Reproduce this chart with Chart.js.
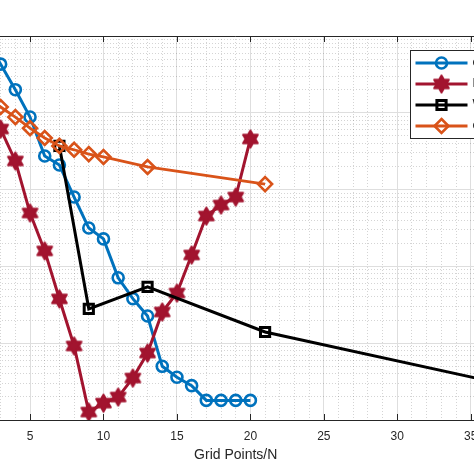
<!DOCTYPE html>
<html>
<head>
<meta charset="utf-8">
<script src="https://cdn.jsdelivr.net/npm/chart.js@4.4.1/dist/chart.umd.min.js"></script>
<style>
  html, body { margin: 0; padding: 0; background: #fff; overflow: hidden; width: 474px; height: 474px; }
  #wrap { position: absolute; left: -150px; top: 0; }
</style>
</head>
<body>
<div id="wrap"><canvas id="chart" width="740" height="474"></canvas></div>
<script>
// Axis ticks
const X_TICKS   = [0, 5, 10, 15, 20, 25, 30, 35, 40];
const Y_DECADES = [1e-6, 1e-5, 1e-4, 1e-3, 1e-2, 1e-1];
const X_TITLE   = 'Grid Points/N';

// Series (error vs. number of grid points)
const SERIES_NAMES = ['ours', 'Lagrange', 'WENO', 'central'];

const blueN   = [2, 3, 4, 5, 6, 7, 8, 9, 10, 11, 12, 13, 14, 15, 16, 17, 18, 19, 20];
const blueErr = [9e-2, 4.3e-2, 2.0e-2, 8.8e-3, 2.74e-3, 2.09e-3, 8.0e-4, 3.16e-4, 2.28e-4, 7.1e-5,
                 3.8e-5, 2.26e-5, 5.0e-6, 3.6e-6, 2.8e-6, 1.8e-6, 1.8e-6, 1.8e-6, 1.8e-6];

const redN   = [2, 3, 4, 5, 6, 7, 8, 9, 10, 11, 12, 13, 14, 15, 16, 17, 18, 19, 20];
const redErr = [1.6e-2, 6.15e-3, 2.36e-3, 4.96e-4, 1.59e-4, 3.77e-5, 9.2e-6, 1.27e-6, 1.66e-6, 1.99e-6,
                3.52e-6, 7.45e-6, 2.55e-5, 4.5e-5, 1.41e-4, 4.53e-4, 6.3e-4, 8.0e-4, 4.56e-3];

const blackN   = [7, 9, 13, 21, 37];
const blackErr = [3.7e-3, 2.8e-5, 5.4e-5, 1.4e-5, 3.0e-6];

const orangeN   = [2, 3, 4, 5, 6, 7, 8, 9, 10, 13, 21];
const orangeErr = [1.6e-2, 1.19e-2, 8.8e-3, 6.3e-3, 4.7e-3, 3.7e-3, 3.3e-3, 2.9e-3, 2.66e-3, 1.97e-3, 1.18e-3];

const COLORS = { blue: '#0072BD', red: '#A2142F', black: '#000000', orange: '#D95319' };
const AXIS_COLOR  = '#262626';
const GRID_MAJOR  = '#dedede';
const GRID_MINOR  = 'rgba(38,38,38,0.2)';
const FONT_FAMILY = "'Liberation Sans', Arial, Helvetica, sans-serif";

// minor grid positions: 1..9 x each decade
const yMinorTicks = [];
Y_DECADES.forEach((d, i) => {
  if (i === Y_DECADES.length - 1) { yMinorTicks.push(d); return; }
  for (let k = 1; k <= 9; k++) yMinorTicks.push(d * k);
});
const xMinorTicks = [];
for (let v = X_TICKS[0]; v <= X_TICKS[X_TICKS.length - 1]; v++) xMinorTicks.push(v);

const isDecade = v => Math.abs(Math.log10(v) - Math.round(Math.log10(v))) < 1e-6;

// filled six-pointed star marker
function makeHexagram(color, R) {
  const c = document.createElement('canvas');
  const s = Math.ceil(R * 2 + 4);
  c.width = s; c.height = s;
  const g = c.getContext('2d');
  const r = R / Math.sqrt(3);
  g.beginPath();
  for (let i = 0; i < 12; i++) {
    const ang = -Math.PI / 2 + i * Math.PI / 6;
    const rr = i % 2 === 0 ? R : r;
    const px = s / 2 + rr * Math.cos(ang), py = s / 2 + rr * Math.sin(ang);
    i === 0 ? g.moveTo(px, py) : g.lineTo(px, py);
  }
  g.closePath();
  g.fillStyle = color;
  g.strokeStyle = color;
  g.lineWidth = 2;
  g.lineJoin = 'round';
  g.fill();
  g.stroke();
  return c;
}
const hexStar = makeHexagram(COLORS.red, 8.5);

const toPoints = (xs, ys) => xs.map((x, i) => ({ x, y: ys[i] }));

const datasets = [
  { label: SERIES_NAMES[0], data: toPoints(blueN, blueErr), borderColor: COLORS.blue, borderWidth: 3,
    pointStyle: 'circle', pointRadius: 5.5, pointBorderWidth: 2.6, pointBackgroundColor: 'rgba(0,0,0,0)',
    pointBorderColor: COLORS.blue, order: 3 },
  { label: SERIES_NAMES[1], data: toPoints(redN, redErr), borderColor: COLORS.red, borderWidth: 3,
    pointStyle: hexStar, pointRadius: 8, order: 2 },
  { label: SERIES_NAMES[2], data: toPoints(blackN, blackErr), borderColor: COLORS.black, borderWidth: 3,
    pointStyle: 'rect', pointRadius: 6.5, pointBorderWidth: 3, pointBackgroundColor: 'rgba(0,0,0,0)',
    pointBorderColor: COLORS.black, order: 1 },
  { label: SERIES_NAMES[3], data: toPoints(orangeN, orangeErr), borderColor: COLORS.orange, borderWidth: 2.8,
    pointStyle: 'rectRot', pointRadius: 7, pointBorderWidth: 2.6, pointBackgroundColor: 'rgba(0,0,0,0)',
    pointBorderColor: COLORS.orange, order: 0 },
];

// box + inward tick marks, like a MATLAB axes
const framePlugin = {
  id: 'frame',
  beforeDatasetsDraw(chart) {
    const { ctx, chartArea: a, scales } = chart;
    ctx.save();
    ctx.strokeStyle = AXIS_COLOR;
    ctx.lineWidth = 1;
    ctx.beginPath();
    ctx.moveTo(a.left, a.top + 0.5);
    ctx.lineTo(a.right, a.top + 0.5);
    ctx.moveTo(a.right - 0.5, a.top);
    ctx.lineTo(a.right - 0.5, a.bottom);
    X_TICKS.forEach(v => {
      const px = Math.round(scales.x.getPixelForValue(v)) + 0.5;
      ctx.moveTo(px, a.bottom); ctx.lineTo(px, a.bottom - 6);
      ctx.moveTo(px, a.top);    ctx.lineTo(px, a.top + 6);
    });
    Y_DECADES.forEach(v => {
      const py = Math.round(scales.y.getPixelForValue(v)) + 0.5;
      ctx.moveTo(a.left, py);  ctx.lineTo(a.left + 6, py);
      ctx.moveTo(a.right, py); ctx.lineTo(a.right - 6, py);
    });
    ctx.stroke();
    ctx.restore();
  }
};

function drawMarker(ctx, ds, x, y) {
  const st = ds.pointStyle;
  if (typeof st !== 'string') {
    ctx.drawImage(st, x - st.width / 2, y - st.height / 2);
    return;
  }
  ctx.strokeStyle = ds.pointBorderColor;
  ctx.lineWidth = ds.pointBorderWidth;
  ctx.beginPath();
  if (st === 'circle') {
    ctx.arc(x, y, ds.pointRadius, 0, Math.PI * 2);
  } else if (st === 'rect') {
    const s = ds.pointRadius * Math.SQRT1_2;
    ctx.rect(x - s, y - s, 2 * s, 2 * s);
  } else if (st === 'rectRot') {
    const r = ds.pointRadius;
    ctx.moveTo(x, y - r); ctx.lineTo(x + r, y); ctx.lineTo(x, y + r); ctx.lineTo(x - r, y);
    ctx.closePath();
  }
  ctx.stroke();
}

// legend box in the upper right corner of the plot
const boxLegend = {
  id: 'boxLegend',
  afterDraw(chart) {
    const { ctx, chartArea: a } = chart;
    const sets = chart.data.datasets;
    const w = 126, rowH = 21;
    const x0 = Math.round(a.right - 8 - w) + 0.5, y0 = Math.round(a.top + 14) + 0.5;
    const h = rowH * sets.length + 4;
    ctx.save();
    ctx.fillStyle = '#fff';
    ctx.fillRect(x0, y0, w, h);
    ctx.strokeStyle = AXIS_COLOR;
    ctx.lineWidth = 1;
    ctx.strokeRect(x0, y0, w, h);
    sets.forEach((ds, i) => {
      const cy = y0 + 12.5 + i * rowH;
      ctx.strokeStyle = ds.borderColor;
      ctx.lineWidth = ds.borderWidth;
      ctx.beginPath();
      ctx.moveTo(x0 + 5, cy);
      ctx.lineTo(x0 + 57, cy);
      ctx.stroke();
      drawMarker(ctx, ds, x0 + 31, cy);
      ctx.fillStyle = AXIS_COLOR;
      ctx.font = '12px ' + FONT_FAMILY;
      ctx.textAlign = 'left';
      ctx.textBaseline = 'middle';
      ctx.fillText(ds.label, x0 + 62, cy);
    });
    ctx.restore();
  }
};

const supDigits = { '-': '⁻', '0': '⁰', '1': '¹', '2': '²', '3': '³', '4': '⁴', '5': '⁵', '6': '⁶', '7': '⁷', '8': '⁸', '9': '⁹' };
const fmtPow = v => '10' + String(Math.round(Math.log10(v))).split('').map(c => supDigits[c]).join('');

const ctx = document.getElementById('chart').getContext('2d');
new Chart(ctx, {
  type: 'line',
  data: { datasets },
  plugins: [framePlugin, boxLegend],
  options: {
    responsive: false,
    animation: false,
    devicePixelRatio: 1,
    layout: { padding: { top: 36, left: 27.2, right: 45.8, bottom: 0 } },
    plugins: { legend: { display: false }, tooltip: { enabled: false } },
    elements: { line: { tension: 0, fill: false } },
    scales: {
      x: {
        type: 'linear', position: 'bottom', min: -2, max: 40,
        afterBuildTicks: s => { s.ticks = X_TICKS.map(v => ({ value: v })); },
        afterFit: s => { s.height = 54; },
        grid: { color: GRID_MAJOR, lineWidth: 1, drawTicks: false },
        border: { display: true, color: AXIS_COLOR, width: 1 },
        ticks: { color: AXIS_COLOR, padding: 9, font: { family: FONT_FAMILY, size: 12 } },
        title: { display: true, text: X_TITLE, color: AXIS_COLOR, padding: { top: 0, bottom: 10 },
                 font: { family: FONT_FAMILY, size: 14 } }
      },
      xMinor: {
        type: 'linear', position: 'bottom', min: -2, max: 40,
        afterBuildTicks: s => { s.ticks = xMinorTicks.map(v => ({ value: v })); },
        afterFit: s => { s.height = 0; },
        grid: { color: c => (c.tick && c.tick.value % 5 === 0) ? 'rgba(0,0,0,0)' : GRID_MINOR,
                lineWidth: 1, drawTicks: false },
        border: { display: false, dash: [1, 2] },
        ticks: { display: false }
      },
      y: {
        type: 'logarithmic', position: 'left', min: 1e-6, max: 1e-1,
        afterBuildTicks: s => { s.ticks = Y_DECADES.map(v => ({ value: v })); },
        afterFit: s => { s.width = 50; },
        grid: { color: GRID_MAJOR, lineWidth: 1, drawTicks: false },
        border: { display: true, color: AXIS_COLOR, width: 1 },
        ticks: { color: AXIS_COLOR, padding: 8, font: { family: FONT_FAMILY, size: 12 }, callback: v => fmtPow(v) }
      },
      yMinor: {
        type: 'logarithmic', position: 'left', min: 1e-6, max: 1e-1,
        afterBuildTicks: s => { s.ticks = yMinorTicks.map(v => ({ value: v })); },
        afterFit: s => { s.width = 0; },
        grid: { color: c => (c.tick && isDecade(c.tick.value)) ? 'rgba(0,0,0,0)' : GRID_MINOR,
                lineWidth: 1, drawTicks: false },
        border: { display: false, dash: [1, 2] },
        ticks: { display: false }
      }
    }
  }
});
</script>
</body>
</html>
